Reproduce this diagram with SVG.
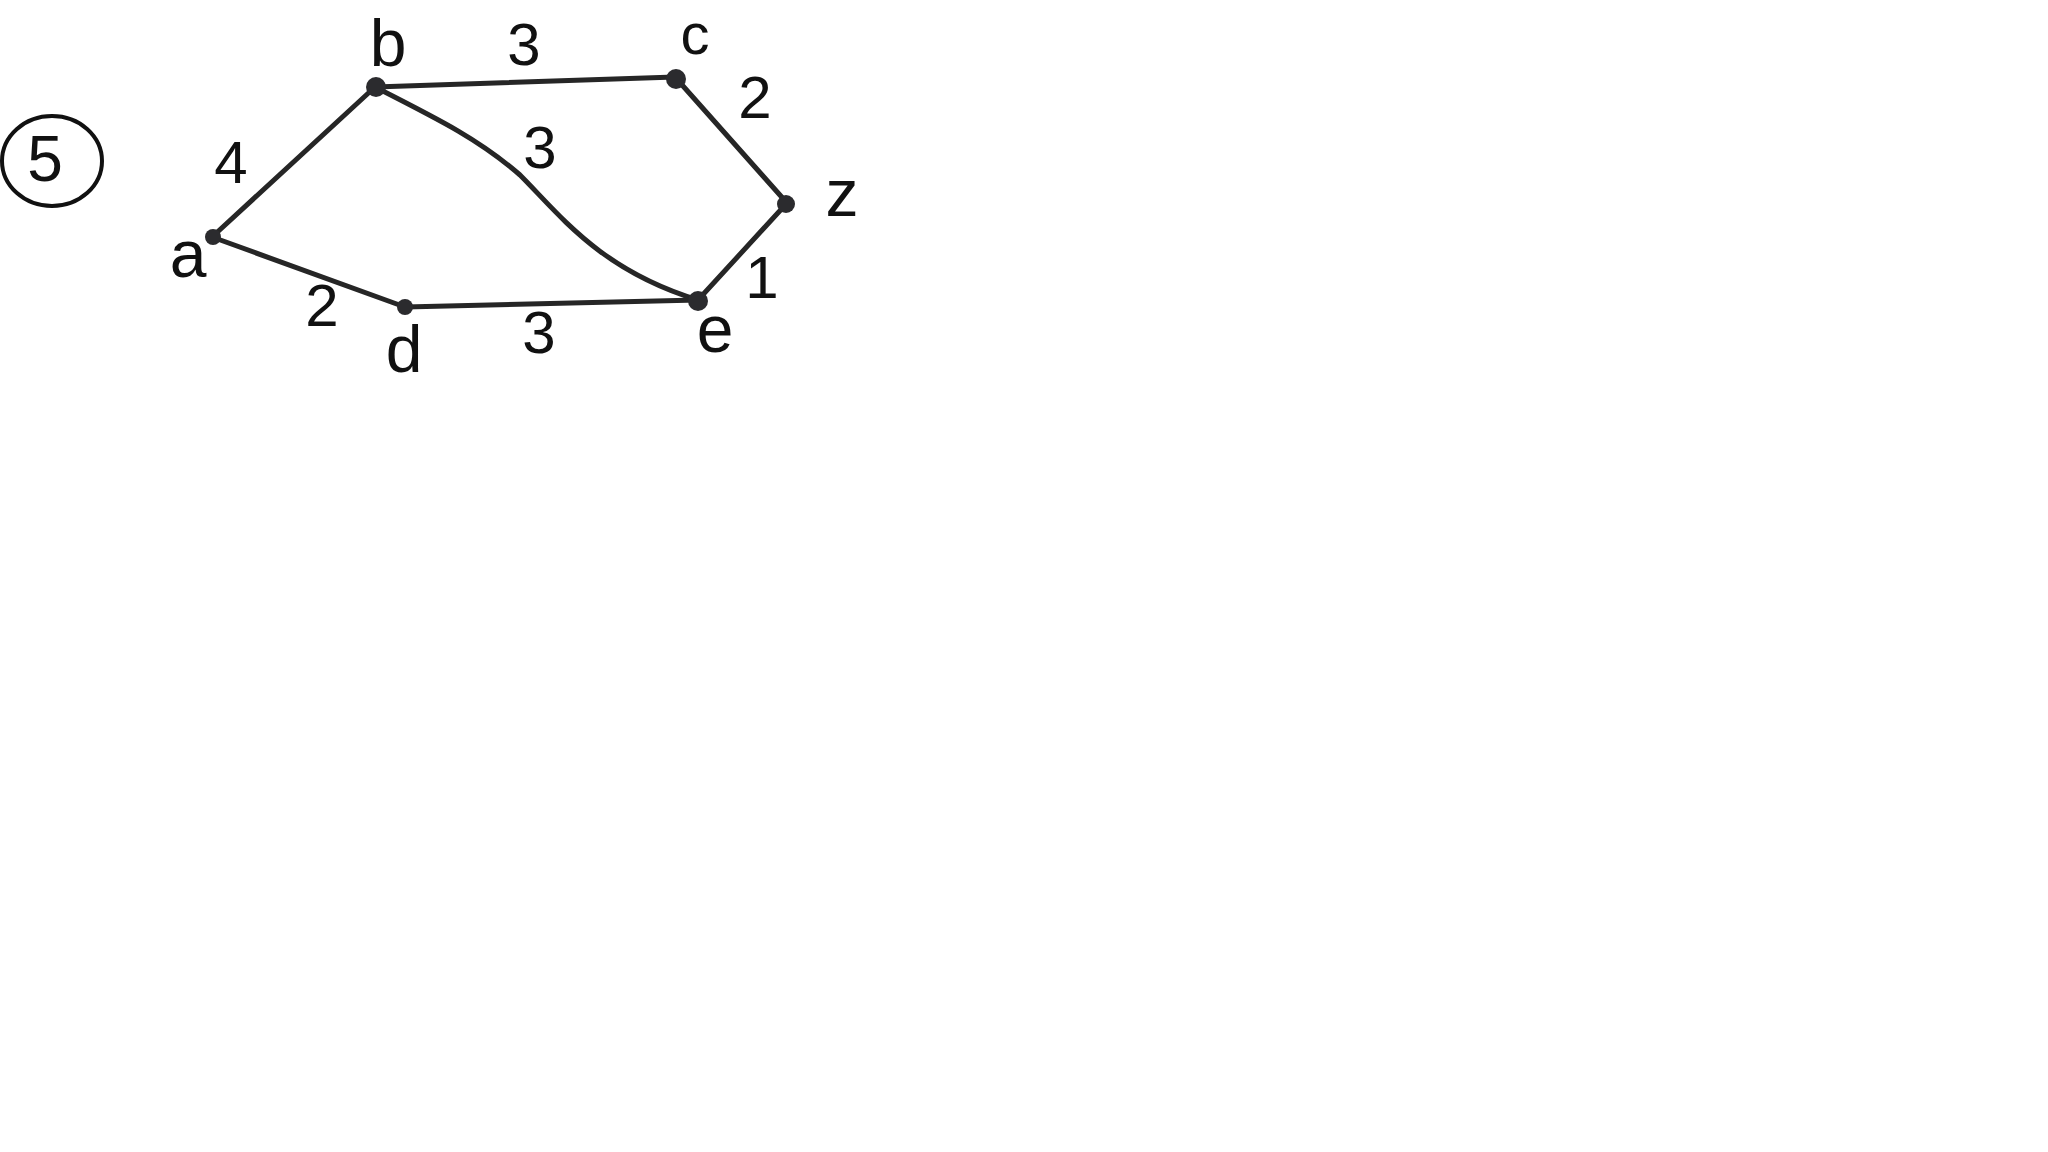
<svg xmlns="http://www.w3.org/2000/svg" width="2048" height="1152" viewBox="0 0 2048 1152">
<style>
.edge{fill:none;stroke:#262626;stroke-width:5;stroke-linecap:round;stroke-linejoin:round}
.node{fill:#2b2b2e}
.lbl{font-family:"Liberation Sans","DejaVu Sans",sans-serif;fill:#111;text-anchor:middle}
.num{font-size:60px}
.let{font-size:66px}
</style>
<rect width="2048" height="1152" fill="#ffffff"/>
<g id="problem-number">
<ellipse cx="52" cy="161" rx="50" ry="45" fill="none" stroke="#111" stroke-width="4"/>
<text class="lbl" style="font-size:64px" x="45" y="181">5</text>
</g>
<g id="connectors">
<path class="edge" d="M212,237 L375,87"/>
<path class="edge" d="M212,237 L405,307"/>
<path class="edge" d="M375,87 Q520,82 675,77"/>
<path class="edge" d="M375,87 C440,120 480,140 520,175 C560,215 600,270 698,300"/>
<path class="edge" d="M405,307 Q550,303 698,300"/>
<path class="edge" d="M675,77 L787,203"/>
<path class="edge" d="M787,203 L698,300"/>
</g>
<g id="node-a"><circle class="node" cx="213" cy="237" r="8"/><text class="lbl let" x="188" y="277">a</text></g>
<g id="node-b"><circle class="node" cx="376" cy="87" r="10"/><text class="lbl let" x="388" y="66">b</text></g>
<g id="node-c"><circle class="node" cx="676" cy="79" r="10"/><text class="lbl" style="font-size:58px" x="695" y="54">c</text></g>
<g id="node-z"><circle class="node" cx="786" cy="204" r="9"/><text class="lbl let" x="842" y="216">z</text></g>
<g id="node-e"><circle class="node" cx="698" cy="301" r="10"/><text class="lbl let" x="715" y="352">e</text></g>
<g id="node-d"><circle class="node" cx="405" cy="307" r="8"/><text class="lbl let" x="404" y="372">d</text></g>
<g id="labels">
<text class="lbl num" x="231" y="183">4</text>
<text class="lbl num" x="322" y="326">2</text>
<text class="lbl num" x="524" y="65">3</text>
<text class="lbl num" x="755" y="118">2</text>
<text class="lbl num" x="540" y="168">3</text>
<text class="lbl num" x="762" y="298">1</text>
<text class="lbl num" x="539" y="353">3</text>
</g>
</svg>
